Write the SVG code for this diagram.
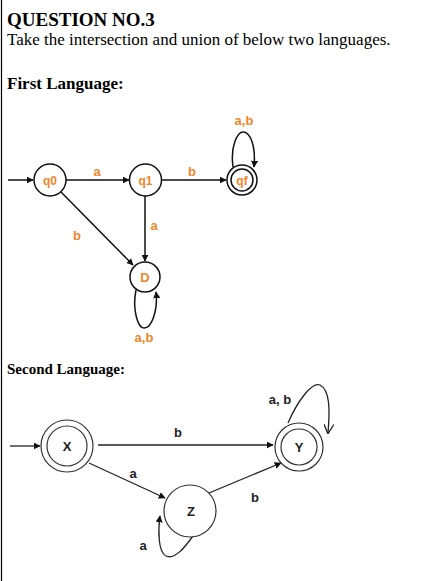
<svg xmlns="http://www.w3.org/2000/svg" width="445" height="581" viewBox="0 0 445 581">
<defs>
<style>
.h{font-family:"Liberation Serif",serif;fill:#000}
.o{font-family:"Liberation Sans",Arial,sans-serif;font-weight:bold;fill:#F0862A;text-anchor:middle}
.k{font-family:"Liberation Sans",Arial,sans-serif;font-weight:bold;fill:#222;text-anchor:middle;font-size:13px}
.n{fill:#fff;stroke:#111;stroke-width:1.5}
.n2{fill:#fff;stroke:#333;stroke-width:1.2}
.e{fill:none;stroke:#111;stroke-width:1.5}
.e2{fill:none;stroke:#222;stroke-width:1.3}
</style>
<marker id="ah" viewBox="0 0 10 10" refX="9" refY="5" markerWidth="7" markerHeight="7" orient="auto" markerUnits="userSpaceOnUse">
<path d="M0,0 L10,5 L0,10 Z" fill="#111"/>
</marker>
<marker id="av" viewBox="0 0 10 10" refX="9" refY="5" markerWidth="10" markerHeight="10" orient="auto" markerUnits="userSpaceOnUse">
<path d="M0,0 L10,5 L0,10" fill="none" stroke="#222" stroke-width="1.3"/>
</marker>
</defs>
<rect width="445" height="581" fill="#fff"/>
<line x1="1.5" y1="0" x2="1.5" y2="581" stroke="#000" stroke-width="1.2"/>
<text class="h" x="7" y="26" font-size="19" font-weight="bold">QUESTION NO.3</text>
<text class="h" x="7" y="45" font-size="17">Take the intersection and union of below two languages.</text>
<text class="h" x="7" y="89" font-size="17" font-weight="bold">First Language:</text>
<text class="h" x="7" y="374" font-size="15" font-weight="bold">Second Language:</text>

<g id="connectors">
<line class="e" x1="8" y1="180" x2="33" y2="180" marker-end="url(#ah)"/>
<line class="e" x1="66" y1="180" x2="129" y2="180" marker-end="url(#ah)"/>
<line class="e" x1="162" y1="180" x2="226" y2="180" marker-end="url(#ah)"/>
<path class="e" d="M233,167 C230,145 238,132 243,132 C250,132 256,145 254,167" marker-end="url(#ah)"/>
<line class="e" x1="145" y1="196" x2="145" y2="261" marker-end="url(#ah)"/>
<line class="e" x1="61" y1="192" x2="133" y2="265" marker-end="url(#ah)"/>
<path class="e" d="M136,290 C132,310 138,328 144,328 C152,328 158,310 156,292" marker-end="url(#ah)"/>
<text class="o" x="97" y="176" font-size="13">a</text>
<text class="o" x="192" y="176" font-size="13">b</text>
<text class="o" x="244" y="125" font-size="13">a,b</text>
<text class="o" x="154" y="230" font-size="13">a</text>
<text class="o" x="77" y="240" font-size="13">b</text>
<text class="o" x="144" y="342" font-size="13">a,b</text>

<line class="e2" x1="10" y1="446" x2="40" y2="446" marker-end="url(#ah)"/>
<line class="e2" x1="98" y1="445" x2="273" y2="445" marker-end="url(#ah)"/>
<line class="e2" x1="89" y1="463" x2="165" y2="498" marker-end="url(#ah)"/>
<line class="e2" x1="209" y1="493" x2="281" y2="463" marker-end="url(#ah)"/>
<path class="e2" d="M288,423 C298,400 312,382 320,385 C330,390 330,410 328,433" marker-end="url(#av)"/>
<path class="e2" d="M193,536 C185,547 175,560 166,556 C158,552 158,530 160,516" marker-end="url(#ah)"/>
<text class="k" x="178" y="437">b</text>
<text class="k" x="280" y="404">a, b</text>
<text class="k" x="133" y="478">a</text>
<text class="k" x="255" y="502">b</text>
<text class="k" x="143" y="550">a</text>
</g>

<g id="q0"><circle class="n" cx="50" cy="180" r="16"/><text class="o" x="50" y="184.5" font-size="12">q0</text></g>
<g id="q1"><circle class="n" cx="145.5" cy="180" r="16"/><text class="o" x="145.5" y="184.5" font-size="12">q1</text></g>
<g id="qf"><circle class="n" cx="242" cy="180" r="15"/><circle class="n" cx="242" cy="180" r="11"/><text class="o" x="242" y="184.5" font-size="12">qf</text></g>
<g id="D"><circle class="n" cx="145" cy="277" r="15"/><text class="o" x="145" y="282" font-size="13">D</text></g>

<g id="X"><circle class="n2" cx="67" cy="446" r="26"/><circle class="n2" cx="67" cy="446" r="20"/><text class="k" x="67" y="451">X</text></g>
<g id="Y"><circle class="n2" cx="299" cy="447" r="24"/><circle class="n2" cx="299" cy="447" r="18"/><text class="k" x="299" y="452">Y</text></g>
<g id="Z"><circle class="n2" cx="190" cy="511" r="26"/><text class="k" x="191" y="516">Z</text></g>
</svg>
